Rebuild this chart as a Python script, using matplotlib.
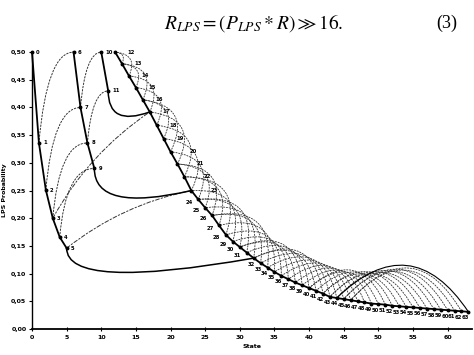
import numpy as np
import matplotlib
matplotlib.use("Agg")
import matplotlib.pyplot as plt

# LPS probability of each state
states = list(range(64))
p_lps = [0.500, 0.336, 0.251, 0.200, 0.166, 0.146,
         0.500, 0.400, 0.336, 0.290,
         0.500, 0.430,
         0.500, 0.479, 0.457, 0.436, 0.414, 0.392, 0.368, 0.344, 0.320, 0.298,
         0.275, 0.250, 0.234, 0.219, 0.205, 0.187, 0.170, 0.158, 0.148, 0.138,
         0.128, 0.119, 0.111, 0.103, 0.096, 0.090, 0.084, 0.079, 0.074, 0.069,
         0.064, 0.058, 0.056, 0.054, 0.052, 0.050, 0.048, 0.046, 0.045, 0.044,
         0.042, 0.041, 0.040, 0.039, 0.038, 0.037, 0.036, 0.035, 0.034, 0.033,
         0.032, 0.031]
segments = [(0, 5), (6, 9), (10, 11), (12, 63)]

# MPS exits of the start-up chains (solid curves)
mps_src = [5, 9, 11]
mps_dst = [32, 23, 17]

# LPS transitions of the start-up chains
lps_left_src = [1, 2, 3, 4, 7, 8]
lps_left_dst = [6, 7, 8, 9, 10, 11]
lps_long_src = [3, 5]
lps_long_dst = [17, 23]

# LPS transitions of the main chain
lps_src = list(range(13, 64))
lps_dst = [12, 12, 13, 13, 14, 15, 16, 16, 17, 18, 19,
           20, 21, 21, 22, 22, 23, 24, 24, 25, 26, 26, 27, 28, 29, 30, 30,
           31, 32, 32, 33, 34, 35, 36, 37, 38, 39, 40, 40, 41, 42, 42, 43,
           43, 44, 44, 45, 45, 46, 46, 44]

x_ticks = list(range(0, 61, 5))
y_ticks = [0.00, 0.05, 0.10, 0.15, 0.20, 0.25, 0.30, 0.35, 0.40, 0.45, 0.50]
y_tick_labels = ["0,00", "0,05", "0,10", "0,15", "0,20", "0,25", "0,30",
                 "0,35", "0,40", "0,45", "0,50"]

fig = plt.figure(figsize=(4.74, 3.55), dpi=100)
ax = fig.add_axes([0.0675, 0.0732, 0.928, 0.780])
ax.set_xlim(0, 63.5)
ax.set_ylim(0, 0.5)

dotted = (0, (1.6, 1.8))
dashdot = (0, (4, 2, 1.5, 2))


def connect(a, b, style, ls, lw, color="black"):
    ax.annotate("", xy=(b, p_lps[b]), xytext=(a, p_lps[a]),
                arrowprops=dict(arrowstyle="-", connectionstyle=style,
                                linestyle=ls, lw=lw, color=color,
                                shrinkA=0, shrinkB=0),
                annotation_clip=False)


# LPS arcs (dotted)
for s, t in zip(lps_left_src, lps_left_dst):
    connect(s, t, "angle3,angleA=85,angleB=0", dotted, 0.7, "#333333")
for s, t in zip(lps_long_src, lps_long_dst):
    connect(s, t, "arc3,rad=-0.12", dashdot, 0.7, "#333333")
for s, t in zip(lps_src, lps_dst):
    if s < 24:
        rad = 0.7
    else:
        rad = 0.68
    if s == 63:
        connect(s, t, "arc3,rad=0.6", "-", 0.8)
    else:
        connect(s, t, f"arc3,rad={rad}", dotted, 0.6, "#333333")

# MPS exit curves (solid)
exit_angles = [10, 13, 20]
for s, t, ang in zip(mps_src, mps_dst, exit_angles):
    connect(s, t, f"angle3,angleA=-90,angleB={ang}", "-", 1.1)

# main state chains
for a, b in segments:
    ax.plot(states[a:b + 1], p_lps[a:b + 1], color="black", lw=1.3,
            marker="o", ms=1.8, clip_on=False, zorder=3)

# state labels
for s in states:
    if s < 12:
        off, ha, va = (3, 0), "left", "center"
    elif s < 20:
        off, ha, va = (9, 0), "left", "center"
    elif s < 24:
        off, ha, va = (14, 0), "left", "center"
    elif s < 32:
        off, ha, va = (-4, -2), "right", "center"
    else:
        off, ha, va = (-2, -2.5), "center", "top"
    ax.annotate(str(s), (s, p_lps[s]), xytext=off, textcoords="offset points",
                ha=ha, va=va, fontsize=3.8, fontweight="bold",
                annotation_clip=False)

ax.spines["top"].set_visible(False)
ax.spines["right"].set_visible(False)
ax.spines["left"].set_linewidth(1.0)
ax.spines["bottom"].set_linewidth(1.3)
ax.set_xticks(x_ticks)
ax.set_xticklabels([str(v) for v in x_ticks], fontsize=4.5, fontweight="bold")
ax.set_yticks(y_ticks)
ax.set_yticklabels(y_tick_labels, fontsize=4.5, fontweight="bold")
ax.tick_params(axis="x", direction="inout", length=3, width=0.8, pad=3)
ax.tick_params(axis="y", direction="out", length=2, width=0.8, pad=2)
ax.set_xlabel("State", fontsize=4.5, fontweight="bold", labelpad=3)
ax.set_ylabel("LPS Probability", fontsize=4.5, fontweight="bold", labelpad=3)

plt.rcParams["mathtext.fontset"] = "stix"
fig.text(0.535, 0.935, r"$R_{LPS}=(P_{LPS}*R)\gg 16.$", fontsize=14,
         ha="center", va="center")
fig.text(0.965, 0.935, "(3)", fontsize=13, ha="right", va="center",
         family="Liberation Serif")

fig.savefig("out.png", dpi=100)
